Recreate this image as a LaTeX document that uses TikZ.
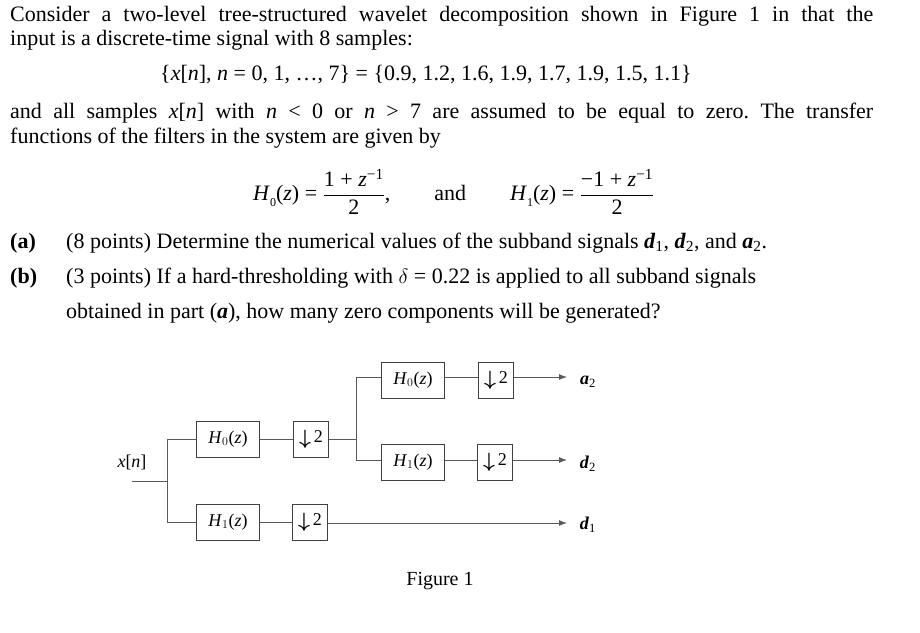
\documentclass[tikz,border=0pt]{standalone}
\usepackage{amsmath}
\usepackage{fontspec}
\setmainfont{Liberation Serif}
\usetikzlibrary{arrows.meta}
\begin{document}
\frenchspacing
\begin{tikzpicture}[x=1pt,y=-1pt,
  txt/.style={anchor=west,inner sep=0pt,font=\fontsize{22}{26}\selectfont},
  blk/.style={draw=black!75,line width=0.9pt,minimum width=63pt,minimum height=36pt,inner sep=0pt,font=\fontsize{18}{20}\selectfont},
  dn/.style={draw=black!75,line width=0.9pt,minimum width=35pt,minimum height=36pt,inner sep=0pt,font=\fontsize{18}{20}\selectfont},
  wire/.style={draw=black!65,line width=1pt},
  arr/.style={wire,-{Latex[length=8pt,width=6pt]}},
  lab/.style={inner sep=0pt,font=\fontsize{18}{20}\selectfont}]
\useasboundingbox (0,0) rectangle (920,632);
\newcommand{\dtwo}{\raisebox{-0.2ex}{\fontsize{22}{22}\selectfont$\boldsymbol{\downarrow}$}\,2}
% text
\node[txt] (t1) at (10,16) {\makebox[863pt][s]{Consider a two-level tree-structured wavelet decomposition shown in Figure 1 in that the}};
\node[txt] (t2) at (10,40) {input is a discrete-time signal with 8 samples:};
\node[txt] (t3) at (160,75) {\{\textit{x}[\textit{n}], \textit{n} = 0, 1, \dots, 7\} = \{0.9, 1.2, 1.6, 1.9, 1.7, 1.9, 1.5, 1.1\}};
\node[txt] (t4) at (10,113) {\makebox[863pt][s]{and all samples \textit{x}[\textit{n}] with \textit{n} < 0 or \textit{n} > 7 are assumed to be equal to zero. The transfer}};
\node[txt] (t5) at (10,138) {functions of the filters in the system are given by};
\node[txt] (t6) at (253,192) {\textit{H}\raisebox{-0.6ex}{\fontsize{12}{12}\selectfont 0}(\textit{z}) = $\dfrac{\text{1 + }\textit{z}^{\text{−1}}}{\text{2}}$,\qquad and\qquad \textit{H}\raisebox{-0.6ex}{\fontsize{12}{12}\selectfont 1}(\textit{z}) = $\dfrac{\text{−1 + }\textit{z}^{\text{−1}}}{\text{2}}$};
\node[txt] (t7) at (10,243) {\makebox[56pt][l]{\textbf{(a)}}(8 points) Determine the numerical values of the subband signals \textbf{\textit{d}}\textsubscript{1}, \textbf{\textit{d}}\textsubscript{2}, and \textbf{\textit{a}}\textsubscript{2}.};
\node[txt] (t8) at (10,278) {\makebox[56pt][l]{\textbf{(b)}}(3 points) If a hard-thresholding with $\delta$ = 0.22 is applied to all subband signals};
\node[txt] (t9) at (66,313) {obtained in part (\textbf{\textit{a}}), how many zero components will be generated?};
% diagram
\node[lab] (x) at (132,462) {\textit{x}[\textit{n}]};
\coordinate (in) at (132,481);
\coordinate (s1) at (167,481);
\coordinate (s1u) at (167,439);
\coordinate (s1d) at (167,522);
\node[blk] (h0) at (228,439) {\textit{H}$_0$(\textit{z})};
\node[dn] (d0) at (311,439) {\dtwo};
\node[blk] (h1) at (228,522) {\textit{H}$_1$(\textit{z})};
\node[dn] (d1) at (310,522) {\dtwo};
\coordinate (s2) at (356,439);
\coordinate (s2u) at (356,377);
\coordinate (s2d) at (356,460);
\node[blk] (h00) at (413,380) {\textit{H}$_0$(\textit{z})};
\node[dn] (d00) at (496,380) {\dtwo};
\node[blk] (h01) at (413,462) {\textit{H}$_1$(\textit{z})};
\node[dn] (d01) at (495,462) {\dtwo};
\coordinate (ea) at (567,377);
\coordinate (ed2) at (567,460);
\coordinate (ed1) at (567,523);
\node[lab] (la2) at (588,382) {\textbf{\textit{a}}\textsubscript{2}};
\node[lab] (ld2) at (588,464) {\textbf{\textit{d}}\textsubscript{2}};
\node[lab] (ld1) at (588,525) {\textbf{\textit{d}}\textsubscript{1}};
\draw[wire] (in) -- (s1);
\draw[wire] (s1u) -- (s1d);
\draw[wire] (s1u) -- (h0.west);
\draw[wire] (s1d) -- (h1.west);
\draw[wire] (h0) -- (d0);
\draw[wire] (h1) -- (d1);
\draw[wire] (d0.east) -- (s2);
\draw[wire] (s2u) -- (s2d);
\draw[wire] (s2u) -- (h00.west|-s2u);
\draw[wire] (s2d) -- (h01.west|-s2d);
\draw[wire] (h00.east|-s2u) -- (d00.west|-s2u);
\draw[wire] (h01.east|-s2d) -- (d01.west|-s2d);
\draw[arr] (d00.east|-ea) -- (ea);
\draw[arr] (d01.east|-ed2) -- (ed2);
\draw[arr] (d1.east|-ed1) -- (ed1);
\node[lab,font=\fontsize{20}{22}\selectfont] (fig) at (440,581) {Figure 1};
\end{tikzpicture}
\end{document}
